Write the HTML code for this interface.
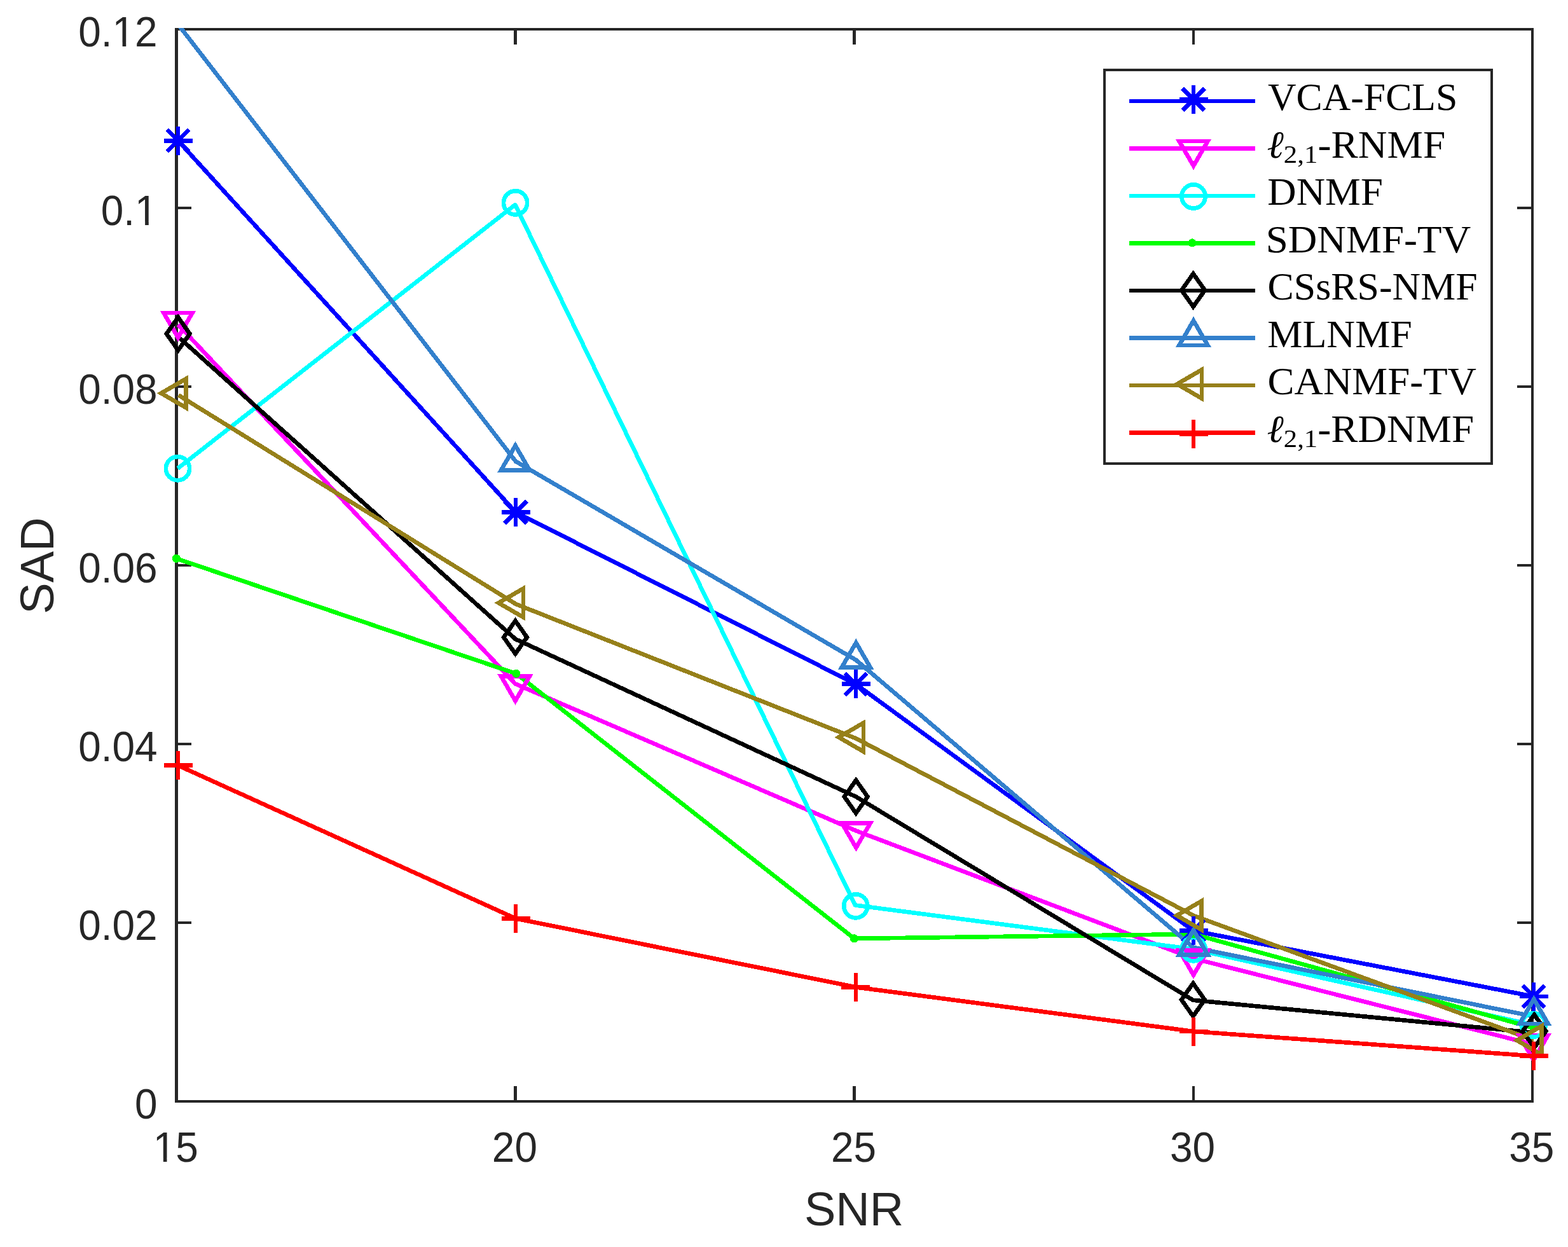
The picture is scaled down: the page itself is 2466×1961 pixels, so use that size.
<!DOCTYPE html>
<html><head><meta charset="utf-8"><title>SAD vs SNR</title>
<style>html,body{margin:0;padding:0;background:#fff;overflow:hidden;}svg{display:block;}.tk{font-family:"Liberation Sans",sans-serif;fill:#262626;}.lg{font-family:"Liberation Serif",serif;fill:#000;}</style></head><body>
<svg width="2466" height="1961" viewBox="0 0 2466 1961">
<rect width="2466" height="1961" fill="#fff"/>
<defs><clipPath id="ax"><rect x="275" y="44" width="2137" height="1690"/></clipPath></defs>
<g fill="#262626" shape-rendering="crispEdges">
<rect x="275" y="44" width="5" height="1690"/>
<rect x="2408" y="44" width="4" height="1690"/>
<rect x="275" y="44" width="2137" height="4"/>
<rect x="275" y="1730" width="2137" height="4"/>
<rect x="280" y="1449" width="21" height="4"/>
<rect x="2386" y="1449" width="22" height="4"/>
<rect x="280" y="1168" width="21" height="4"/>
<rect x="2386" y="1168" width="22" height="4"/>
<rect x="280" y="887" width="21" height="4"/>
<rect x="2386" y="887" width="22" height="4"/>
<rect x="280" y="606" width="21" height="4"/>
<rect x="2386" y="606" width="22" height="4"/>
<rect x="280" y="325" width="21" height="4"/>
<rect x="2386" y="325" width="22" height="4"/>
<rect x="808.2" y="1708" width="4.6" height="22"/>
<rect x="808.2" y="48" width="4.6" height="22"/>
<rect x="1341.45" y="1708" width="4.6" height="22"/>
<rect x="1341.45" y="48" width="4.6" height="22"/>
<rect x="1874.7" y="1708" width="4.6" height="22"/>
<rect x="1874.7" y="48" width="4.6" height="22"/>
</g>
<g class="tk" font-size="66.9">
<text text-anchor="end" transform="translate(247.6 1759.1) scale(0.955 1)">0</text>
<text text-anchor="end" transform="translate(247.6 1478.1) scale(0.955 1)">0.02</text>
<text text-anchor="end" transform="translate(247.6 1197.1) scale(0.955 1)">0.04</text>
<text text-anchor="end" transform="translate(247.6 916.1) scale(0.955 1)">0.06</text>
<text text-anchor="end" transform="translate(247.6 635.1) scale(0.955 1)">0.08</text>
<text text-anchor="end" transform="translate(247.6 354.1) scale(0.955 1)">0.1</text>
<text text-anchor="end" transform="translate(247.6 73.1) scale(0.955 1)">0.12</text>
<text text-anchor="middle" transform="translate(276.3 1827) scale(0.955 1)">15</text>
<text text-anchor="middle" transform="translate(809.4 1827) scale(0.955 1)">20</text>
<text text-anchor="middle" transform="translate(1342.5 1827) scale(0.955 1)">25</text>
<text text-anchor="middle" transform="translate(1875.6 1827) scale(0.955 1)">30</text>
<text text-anchor="middle" transform="translate(2408.7 1827) scale(0.955 1)">35</text>
</g>
<rect x="215.93" y="348.5" width="12.2" height="6.6" fill="#fff"/><rect x="233.78" y="348.5" width="11.7" height="6.6" fill="#fff"/>
<rect x="180.4" y="67.5" width="12.2" height="6.6" fill="#fff"/><rect x="198.25" y="67.5" width="11.7" height="6.6" fill="#fff"/>
<rect x="244.63" y="1821.4" width="12.2" height="6.6" fill="#fff"/><rect x="262.48" y="1821.4" width="11.7" height="6.6" fill="#fff"/>
<text class="tk" font-size="74" text-anchor="middle" x="1343.1" y="1926.5">SNR</text>
<text class="tk" font-size="74" text-anchor="middle" transform="translate(84.3 889.6) rotate(-90)">SAD</text>
<g clip-path="url(#ax)" fill="none" stroke-width="6.7" stroke-linejoin="round" stroke-linecap="butt" shape-rendering="crispEdges">
<polyline stroke="#0000FF" points="280,221.2 811,805.5 1346,1075.8 1877,1463.7 2412,1567"/>
<polyline stroke="#FF00FF" points="280,510.3 810.5,1075.4 1346.4,1306.5 1877,1507.3 2411.8,1642.5"/>
<polyline stroke="#00FFFF" points="279.5,736.7 810.2,322 1345,1423.5 1877,1492.7 2412,1612"/>
<polyline stroke="#00FF00" points="277.4,878.3 811.7,1059.3 1343.5,1475.9 1877,1469 2412,1616.5"/>
<polyline stroke="#000000" points="280.2,529.5 810.5,1004.9 1346.2,1252.9 1876.4,1572.8 2413,1624"/>
<polyline stroke="#3380CC" points="280,38.2 811,725.5 1346.3,1038 1877,1490 2412.3,1598.5"/>
<polyline stroke="#96801A" points="280.7,621.4 811.4,950 1346.4,1161.3 1878,1440.2 2413,1636"/>
<polyline stroke="#FF0000" points="280,1203.7 811,1444.4 1345.9,1552.4 1877,1622 2412,1660.7"/>
</g>
<g stroke-linejoin="miter" stroke-linecap="butt" shape-rendering="crispEdges">
<path d="M257.5 221.2H302.5M280 198.7V243.7M262.7 203.9L297.3 238.5M262.7 238.5L297.3 203.9" stroke="#0000FF" stroke-width="6.7" fill="none"/>
<path d="M788.5 805.5H833.5M811 783V828M793.7 788.2L828.3 822.8M793.7 822.8L828.3 788.2" stroke="#0000FF" stroke-width="6.7" fill="none"/>
<path d="M1323.5 1075.8H1368.5M1346 1053.3V1098.3M1328.7 1058.5L1363.3 1093.1M1328.7 1093.1L1363.3 1058.5" stroke="#0000FF" stroke-width="6.7" fill="none"/>
<path d="M1854.5 1463.7H1899.5M1877 1441.2V1486.2M1859.7 1446.4L1894.3 1481M1859.7 1481L1894.3 1446.4" stroke="#0000FF" stroke-width="6.7" fill="none"/>
<path d="M2389.5 1567H2434.5M2412 1544.5V1589.5M2394.7 1549.7L2429.3 1584.3M2394.7 1584.3L2429.3 1549.7" stroke="#0000FF" stroke-width="6.7" fill="none"/>
<path d="M257.5 492.1L302.5 492.1L280 530.9Z" stroke="#FF00FF" stroke-width="6.7" fill="none"/>
<path d="M788 1063.3L833 1063.3L810.5 1102.1Z" stroke="#FF00FF" stroke-width="6.7" fill="none"/>
<path d="M1323.9 1294.2L1368.9 1294.2L1346.4 1333Z" stroke="#FF00FF" stroke-width="6.7" fill="none"/>
<path d="M1854.5 1494.5L1899.5 1494.5L1877 1533.3Z" stroke="#FF00FF" stroke-width="6.7" fill="none"/>
<path d="M2389.3 1628.3L2434.3 1628.3L2411.8 1667.1Z" stroke="#FF00FF" stroke-width="6.7" fill="none"/>
<circle cx="279.5" cy="736.7" r="18.6" stroke="#00FFFF" stroke-width="6.7" fill="none"/>
<circle cx="810.6" cy="318.9" r="18.6" stroke="#00FFFF" stroke-width="6.7" fill="none"/>
<circle cx="1345.8" cy="1424.8" r="18.6" stroke="#00FFFF" stroke-width="6.7" fill="none"/>
<circle cx="1877" cy="1492.7" r="18.6" stroke="#00FFFF" stroke-width="6.7" fill="none"/>
<circle cx="2412" cy="1612" r="18.6" stroke="#00FFFF" stroke-width="6.7" fill="none"/>
<circle cx="277.4" cy="878.3" r="6.6" fill="#00FF00"/>
<circle cx="811.7" cy="1059.3" r="6.6" fill="#00FF00"/>
<circle cx="1343.5" cy="1475.9" r="6.6" fill="#00FF00"/>
<circle cx="1877" cy="1469" r="6.6" fill="#00FF00"/>
<circle cx="2412" cy="1616.5" r="6.6" fill="#00FF00"/>
<path d="M280.2 499L298.5 524.9L280.2 550.8L261.9 524.9Z" stroke="#000000" stroke-width="6.7" fill="none"/>
<path d="M810.5 976.3L828.8 1002.2L810.5 1028.1L792.2 1002.2Z" stroke="#000000" stroke-width="6.7" fill="none"/>
<path d="M1346.2 1227L1364.5 1252.9L1346.2 1278.8L1327.9 1252.9Z" stroke="#000000" stroke-width="6.7" fill="none"/>
<path d="M1876.4 1546.3L1894.7 1572.2L1876.4 1598.1L1858.1 1572.2Z" stroke="#000000" stroke-width="6.7" fill="none"/>
<path d="M2413 1595.7L2431.3 1621.6L2413 1647.5L2394.7 1621.6Z" stroke="#000000" stroke-width="6.7" fill="none"/>
<path d="M788 739.5L833 739.5L810.5 700.7Z" stroke="#3380CC" stroke-width="6.7" fill="none"/>
<path d="M1323.8 1049.5L1368.8 1049.5L1346.3 1010.7Z" stroke="#3380CC" stroke-width="6.7" fill="none"/>
<path d="M1854.5 1501.5L1899.5 1501.5L1877 1462.7Z" stroke="#3380CC" stroke-width="6.7" fill="none"/>
<path d="M2389.8 1610L2434.8 1610L2412.3 1571.2Z" stroke="#3380CC" stroke-width="6.7" fill="none"/>
<path d="M292.2 595.9L292.2 640.9L253.4 618.4Z" stroke="#96801A" stroke-width="6.7" fill="none"/>
<path d="M822.9 925.6L822.9 970.6L784.1 948.1Z" stroke="#96801A" stroke-width="6.7" fill="none"/>
<path d="M1357.9 1136.9L1357.9 1181.9L1319.1 1159.4Z" stroke="#96801A" stroke-width="6.7" fill="none"/>
<path d="M1889.5 1417.1L1889.5 1462.1L1850.7 1439.6Z" stroke="#96801A" stroke-width="6.7" fill="none"/>
<path d="M2424.5 1613.5L2424.5 1658.5L2385.7 1636Z" stroke="#96801A" stroke-width="6.7" fill="none"/>
<path d="M257.5 1203.7H302.5M280 1181.2V1226.2" stroke="#FF0000" stroke-width="6.7" fill="none"/>
<path d="M788.5 1444.4H833.5M811 1421.9V1466.9" stroke="#FF0000" stroke-width="6.7" fill="none"/>
<path d="M1323.4 1552.4H1368.4M1345.9 1529.9V1574.9" stroke="#FF0000" stroke-width="6.7" fill="none"/>
<path d="M1854.5 1622H1899.5M1877 1599.5V1644.5" stroke="#FF0000" stroke-width="6.7" fill="none"/>
<path d="M2389.5 1660.7H2434.5M2412 1638.2V1683.2" stroke="#FF0000" stroke-width="6.7" fill="none"/>
</g>
<rect x="1737.4" y="110" width="608.6" height="618.7" fill="#fff" stroke="#262626" stroke-width="4" shape-rendering="crispEdges"/>
<g shape-rendering="crispEdges">
<path d="M1776 159H1974" stroke="#0000FF" stroke-width="6.7" fill="none"/>
<g stroke-linejoin="miter"><path d="M1854.5 156.4H1899.5M1877 133.9V178.9M1859.7 139.1L1894.3 173.7M1859.7 173.7L1894.3 139.1" stroke="#0000FF" stroke-width="6.7" fill="none"/></g>
<path d="M1776 233.5H1974" stroke="#FF00FF" stroke-width="6.7" fill="none"/>
<g stroke-linejoin="miter"><path d="M1854.5 222L1899.5 222L1877 260.8Z" stroke="#FF00FF" stroke-width="6.7" fill="none"/></g>
<path d="M1776 308H1974" stroke="#00FFFF" stroke-width="6.7" fill="none"/>
<g stroke-linejoin="miter"><circle cx="1877" cy="308.9" r="18.6" stroke="#00FFFF" stroke-width="6.7" fill="none"/></g>
<path d="M1776 382.6H1974" stroke="#00FF00" stroke-width="6.7" fill="none"/>
<g stroke-linejoin="miter"><circle cx="1875" cy="382" r="6.6" fill="#00FF00"/></g>
<path d="M1776 457H1974" stroke="#000000" stroke-width="6.7" fill="none"/>
<g stroke-linejoin="miter"><path d="M1876.6 430.5L1894.9 456.4L1876.6 482.3L1858.3 456.4Z" stroke="#000000" stroke-width="6.7" fill="none"/></g>
<path d="M1776 531.5H1974" stroke="#3380CC" stroke-width="6.7" fill="none"/>
<g stroke-linejoin="miter"><path d="M1854.5 543L1899.5 543L1877 504.2Z" stroke="#3380CC" stroke-width="6.7" fill="none"/></g>
<path d="M1776 606H1974" stroke="#96801A" stroke-width="6.7" fill="none"/>
<g stroke-linejoin="miter"><path d="M1890 581.5L1890 626.5L1851.2 604Z" stroke="#96801A" stroke-width="6.7" fill="none"/></g>
<path d="M1776 680.5H1974" stroke="#FF0000" stroke-width="6.7" fill="none"/>
<g stroke-linejoin="miter"><path d="M1854.5 682.5H1899.5M1877 660V705" stroke="#FF0000" stroke-width="6.7" fill="none"/></g>
</g>
<text class="lg" font-size="60.5" transform="translate(1993.89 173.4) scale(1.0208 1)">VCA-FCLS</text>
<text class="lg" font-size="60.5" transform="translate(1992.43 248.2) scale(1.0473 1)"><tspan font-style="italic">&#x2113;</tspan><tspan font-size="41" dy="8">2,1</tspan><tspan dy="-8">-RNMF</tspan></text>
<text class="lg" font-size="60.5" transform="translate(1993.34 322) scale(1.0386 1)">DNMF</text>
<text class="lg" font-size="60.5" transform="translate(1990.71 396.6) scale(1.0431 1)">SDNMF-TV</text>
<text class="lg" font-size="60.5" transform="translate(1993.54 471.4) scale(1.0226 1)">CSsRS-NMF</text>
<text class="lg" font-size="60.5" transform="translate(1993.36 545.7) scale(1.0252 1)">MLNMF</text>
<text class="lg" font-size="60.5" transform="translate(1993.5 620) scale(1.0399 1)">CANMF-TV</text>
<text class="lg" font-size="60.5" transform="translate(1992.43 695.3) scale(1.0445 1)"><tspan font-style="italic">&#x2113;</tspan><tspan font-size="41" dy="8">2,1</tspan><tspan dy="-8">-RDNMF</tspan></text>
</svg></body></html>
